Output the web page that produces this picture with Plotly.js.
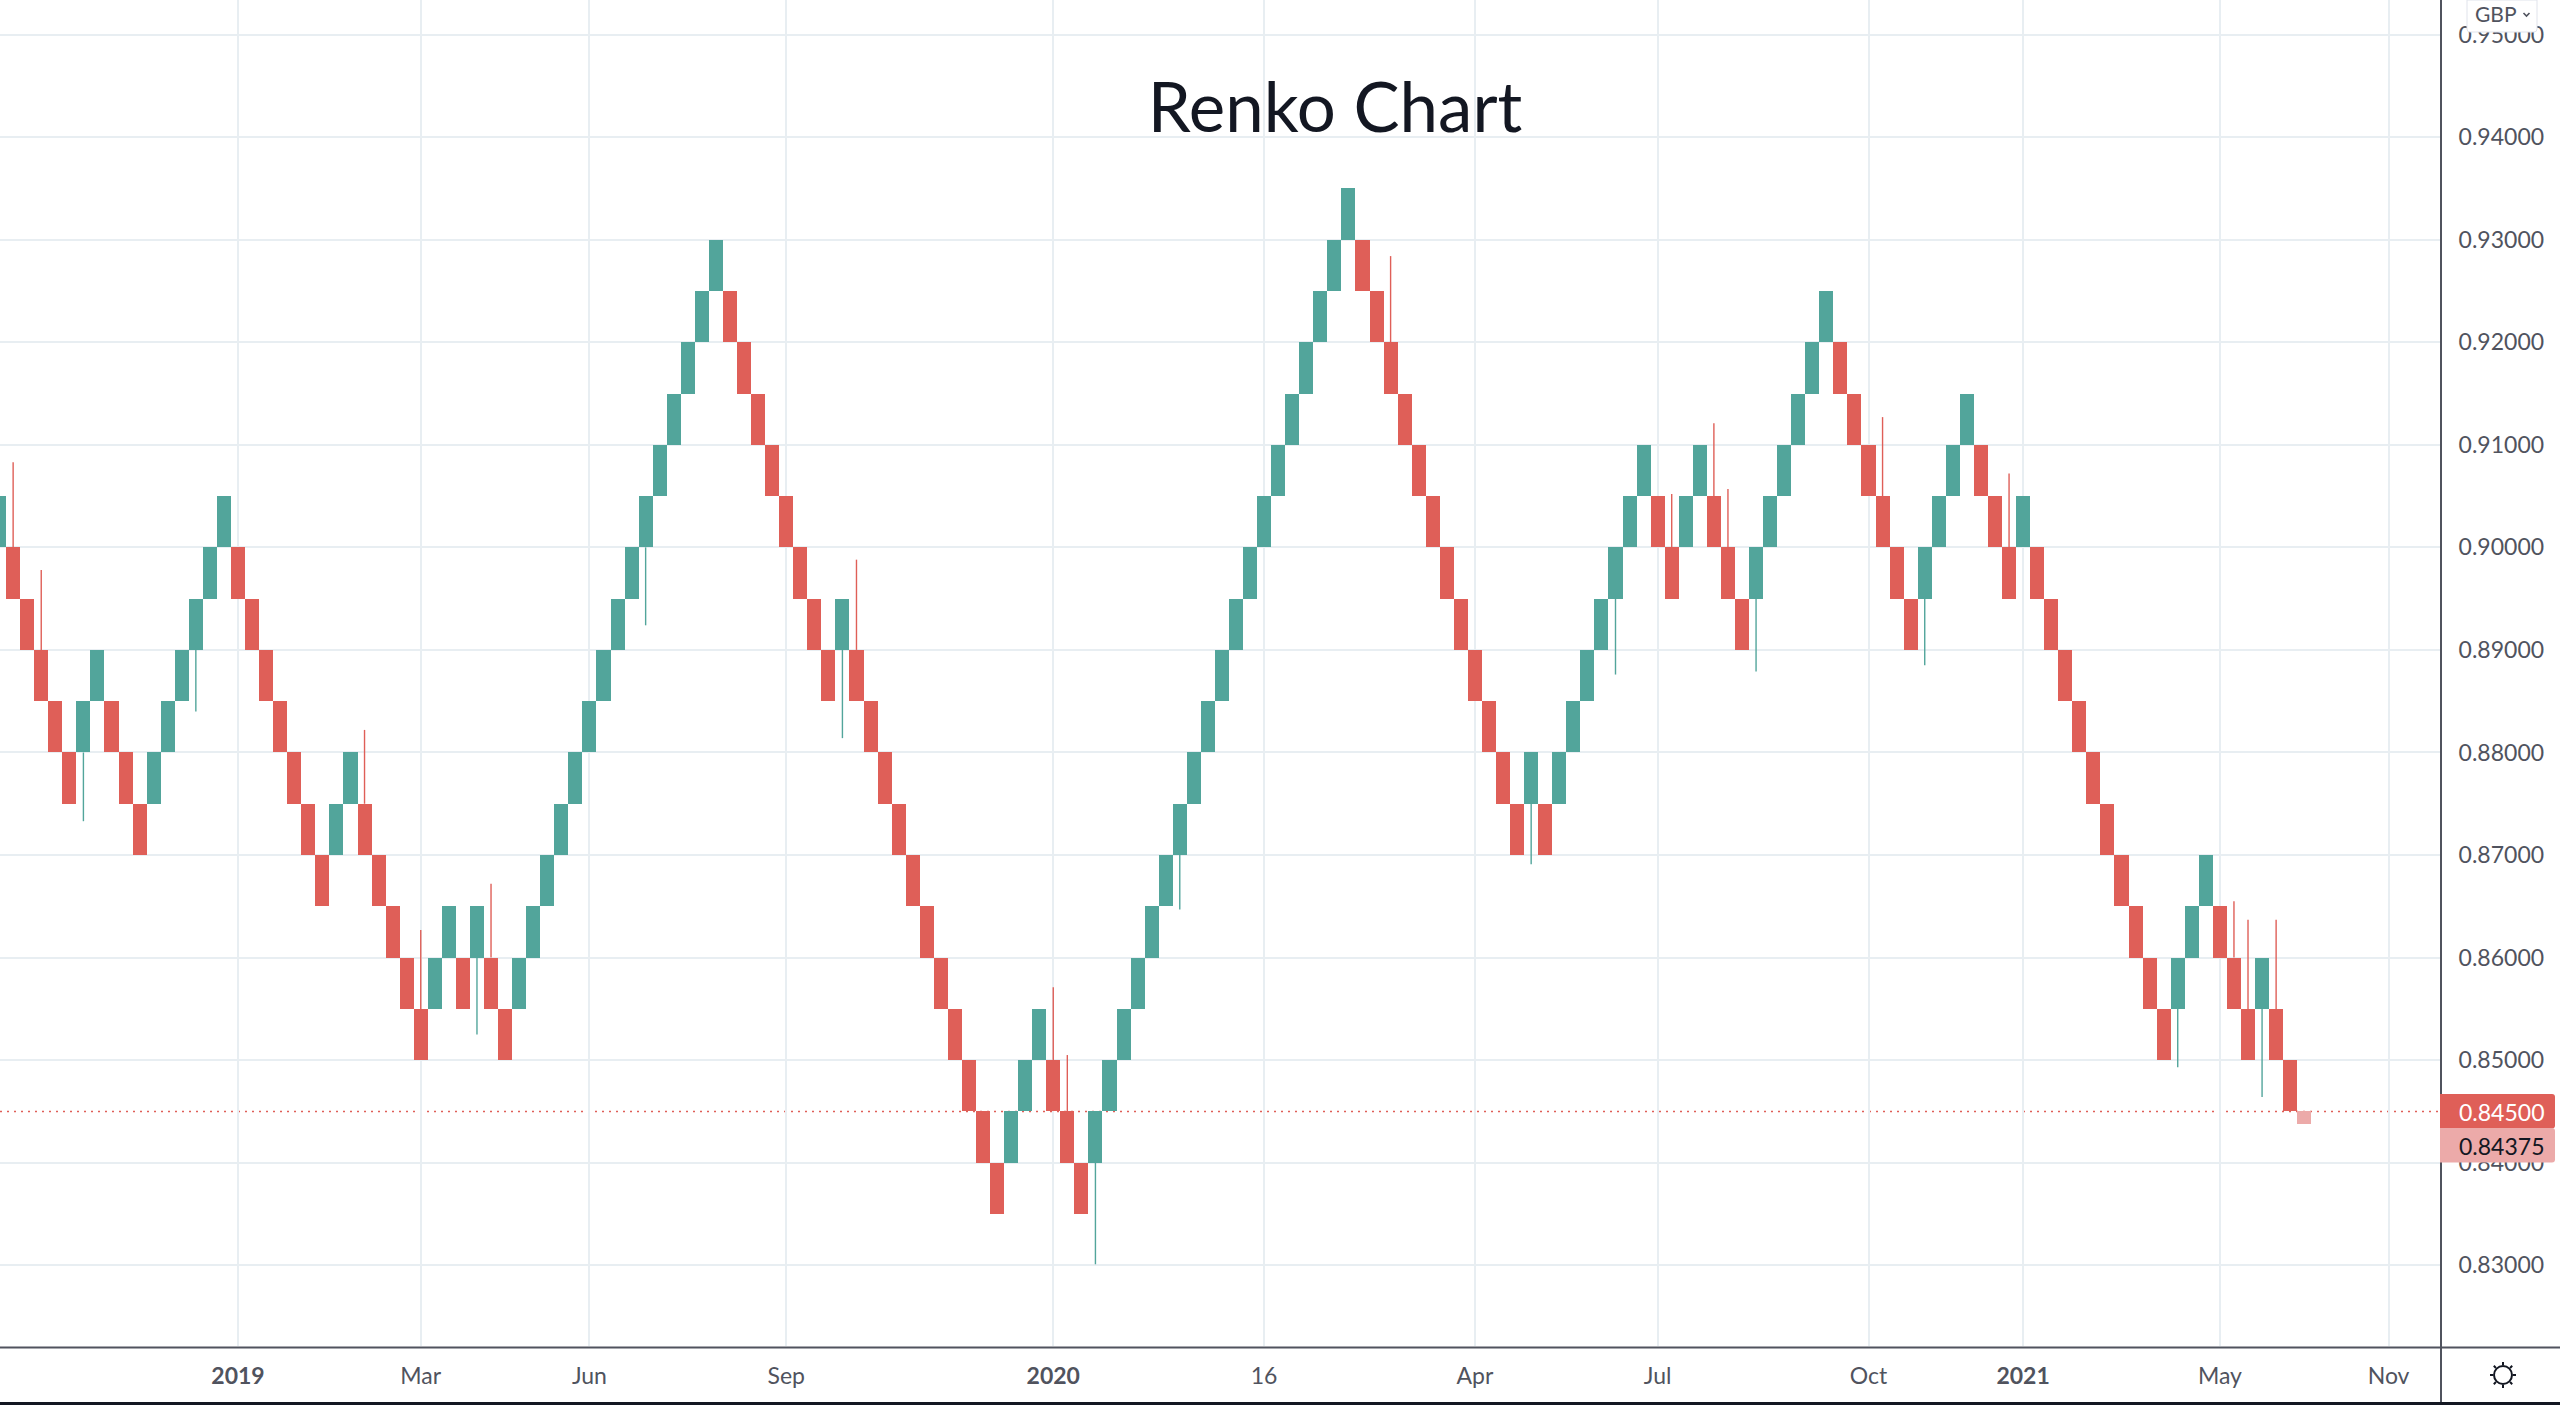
<!DOCTYPE html>
<html>
<head>
<meta charset="utf-8">
<script src="https://cdn.plot.ly/plotly-3.0.1.min.js"></script>
<style>html,body{margin:0;padding:0;background:#fff}#chart{width:2560px;height:1405px}</style>
</head>
<body>
<div id="chart"></div>
<script>
// ---- data ----
const brickSize = 0.005;
const brickLow = [
 .900,.895,.890,.885,.880,.875,.880,.885,.880,.875,.870,.875,.880,.885,.890,.895,.900,
 .895,.890,.885,.880,.875,.870,.865,.870,.875,.870,.865,.860,.855,.850,.855,.860,.855,.860,.855,.850,
 .855,.860,.865,.870,.875,.880,.885,.890,.895,.900,.905,.910,.915,.920,.925,
 .920,.915,.910,.905,.900,.895,.890,.885,.890,.885,.880,.875,.870,.865,.860,.855,.850,.845,.840,.835,
 .840,.845,.850,.845,.840,.835,
 .840,.845,.850,.855,.860,.865,.870,.875,.880,.885,.890,.895,.900,.905,.910,.915,.920,.925,.930,
 .925,.920,.915,.910,.905,.900,.895,.890,.885,.880,.875,.870,.875,.870,
 .875,.880,.885,.890,.895,.900,.905,.900,.895,.900,.905,.900,.895,.890,
 .895,.900,.905,.910,.915,.920,.915,.910,.905,.900,.895,.890,
 .895,.900,.905,.910,.905,.900,.895,.900,.895,.890,.885,.880,.875,.870,.865,.860,.855,.850,
 .855,.860,.865,.860,.855,.850,.855,.850,.845
];
const brickDir = [
 1,-1,-1,-1,-1,-1,1,1,-1,-1,-1,1,1,1,1,1,1,
 -1,-1,-1,-1,-1,-1,-1,1,1,-1,-1,-1,-1,-1,1,1,-1,1,-1,-1,
 1,1,1,1,1,1,1,1,1,1,1,1,1,1,1,
 -1,-1,-1,-1,-1,-1,-1,-1,1,-1,-1,-1,-1,-1,-1,-1,-1,-1,-1,-1,
 1,1,1,-1,-1,-1,
 1,1,1,1,1,1,1,1,1,1,1,1,1,1,1,1,1,1,1,
 -1,-1,-1,-1,-1,-1,-1,-1,-1,-1,-1,-1,1,-1,
 1,1,1,1,1,1,1,-1,-1,1,1,-1,-1,-1,
 1,1,1,1,1,1,-1,-1,-1,-1,-1,-1,
 1,1,1,1,-1,-1,-1,1,-1,-1,-1,-1,-1,-1,-1,-1,-1,-1,
 1,1,1,-1,-1,-1,1,-1,-1
];
const wickCol = [1,3,6,14,26,30,34,35,46,60,61,75,76,78,84,99,109,115,119,122,123,125,134,137,143,155,159,160,161,162];
const wickEnd = [.9083,.8978,.8733,.884,.8822,.8627,.8525,.8672,.8924,.8814,.8988,.8571,.8505,.8301,.8647,.9284,.8691,.8876,.9052,.9121,.9057,.8879,.9127,.8885,.9072,.8493,.8655,.8637,.8464,.8637];
const formingCol = [164];
const formingHigh = [0.845];
const formingClose = [0.84375];
const lastPrice = 0.845;
const priceLabels = ["0.84500", "0.84375"];
const yTickVals = [.83,.84,.85,.86,.87,.88,.89,.90,.91,.92,.93,.94,.95];
const xTickVals = [17,30,42,56,75,90,105,118,133,144,158,170];
const xTickText = ["<b>2019</b>","Mar","Jun","Sep","<b>2020</b>","16","Apr","Jul","Oct","<b>2021</b>","May","Nov"];

// ---- style ----
const GREEN="#52a59b", RED="#df5f58", PALE="#ecaaa9", GRID="#e8eef2", AXIS="#50535e", TEXT="#50535e", DARK="#131722";
const FONT="Lato, 'Noto Sans', sans-serif";
const W=2560,H=1405,PW=2441,PH=1346;
const xRange=[0.066,173.73], yRange=[0.82213,0.95337];
const px=v=>v/PW, py=v=>1-v/PH;

// ---- traces ----
const cols=brickLow.map((_,i)=>i);
const pick=d=>cols.filter(i=>brickDir[i]===d);
const barTrace=(idx,color)=>({type:"bar",x:idx,y:idx.map(()=>brickSize),base:idx.map(i=>brickLow[i]),width:1,
  marker:{color:color,line:{width:0}},hoverinfo:"skip",showlegend:false});
const wickTrace=(d,color)=>{const x=[],y=[];wickCol.forEach((c,i)=>{ if(brickDir[c]!==d)return;
    x.push(c,c,null); y.push(d>0?brickLow[c]:brickLow[c]+brickSize,wickEnd[i],null);});
  return {type:"scatter",mode:"lines",x:x,y:y,line:{color:color,width:1.4},hoverinfo:"skip",showlegend:false,connectgaps:false};};
const traces=[barTrace(pick(1),GREEN),barTrace(pick(-1),RED),
 {type:"bar",x:formingCol,y:[formingHigh[0]-formingClose[0]],base:formingClose,width:1,marker:{color:PALE,line:{width:0}},hoverinfo:"skip",showlegend:false},
 wickTrace(1,GREEN),wickTrace(-1,RED)];

// ---- decorations (pixel helpers) ----
const rr=(x0,y0,x1,y1,r)=>`M${px(x0)},${py(y0)}L${px(x1-r)},${py(y0)}Q${px(x1)},${py(y0)} ${px(x1)},${py(y0+r)}L${px(x1)},${py(y1-r)}Q${px(x1)},${py(y1)} ${px(x1-r)},${py(y1)}L${px(x0)},${py(y1)}Z`;
const shapes=[
 {type:"line",layer:"below",xref:"x",yref:"y",x0:xRange[0],x1:xRange[1],y0:lastPrice,y1:lastPrice,line:{color:RED,width:1.5,dash:"2px 5px"}},
 {type:"rect",xref:"paper",yref:"paper",x0:0,x1:px(W),y0:py(1402),y1:py(H),fillcolor:DARK,line:{width:0},layer:"above"},
 {type:"line",xref:"paper",yref:"paper",x0:0,x1:px(W),y0:py(1347.5),y1:py(1347.5),line:{color:AXIS,width:2},layer:"above"},
 {type:"line",xref:"paper",yref:"paper",x0:px(2441),x1:px(2441),y0:py(0),y1:py(1402),line:{color:AXIS,width:2},layer:"above"},
 {type:"path",xref:"paper",yref:"paper",path:rr(2440,1094,2555,1128.5,3),fillcolor:RED,line:{width:0},layer:"above"},
 {type:"path",xref:"paper",yref:"paper",path:rr(2440,1128,2555,1162.5,3),fillcolor:PALE,line:{width:0},layer:"above"},
 {type:"path",xref:"paper",yref:"paper",path:`M${px(2467)},${py(0)}L${px(2467)},${py(29)}Q${px(2467)},${py(32)} ${px(2470)},${py(32)}L${px(2534)},${py(32)}Q${px(2537)},${py(32)} ${px(2537)},${py(29)}L${px(2537)},${py(0)}Z`,fillcolor:"#ffffff",line:{color:"#e0e3eb",width:1},layer:"above"},
 {type:"path",xref:"paper",yref:"paper",path:`M${px(2523.5)},${py(13)}L${px(2526.5)},${py(16)}L${px(2529.5)},${py(13)}`,line:{color:TEXT,width:1.6},layer:"above"},
 {type:"circle",xref:"paper",yref:"paper",x0:px(2494),x1:px(2512),y0:py(1366),y1:py(1384),line:{color:DARK,width:2},layer:"above"}
];
for(let k=0;k<8;k++){const a=k*Math.PI/4, c=Math.cos(a), s=Math.sin(a);
 shapes.push({type:"line",xref:"paper",yref:"paper",x0:px(2503+10*c),x1:px(2503+13*c),y0:py(1375+10*s),y1:py(1375+13*s),line:{color:DARK,width:2},layer:"above"});}

const annotations=[
 {xref:"paper",yref:"paper",x:px(2457),y:py(1111.5),xanchor:"left",yanchor:"middle",text:priceLabels[0],showarrow:false,font:{family:FONT,size:23,color:"#ffffff"}},
 {xref:"paper",yref:"paper",x:px(2457),y:py(1145.5),xanchor:"left",yanchor:"middle",text:priceLabels[1],showarrow:false,font:{family:FONT,size:23,color:DARK}},
 {xref:"paper",yref:"paper",x:px(2473),y:py(14),xanchor:"left",yanchor:"middle",text:"GBP",showarrow:false,font:{family:FONT,size:21,color:TEXT}}
];

const layout={
 width:W,height:H,paper_bgcolor:"#fff",plot_bgcolor:"#fff",
 margin:{l:0,r:W-PW,t:0,b:H-PH,pad:0},
 barmode:"overlay",bargap:0,showlegend:false,
 title:{text:"Renko Chart",font:{family:FONT,size:69,color:DARK},xref:"container",yref:"container",x:1335/W,xanchor:"center",y:1-108/H,yanchor:"middle"},
 xaxis:{range:xRange,tickmode:"array",tickvals:xTickVals,ticktext:xTickText,showgrid:true,gridcolor:GRID,gridwidth:2,zeroline:false,
   ticks:"outside",ticklen:9,tickcolor:"rgba(0,0,0,0)",showline:false,tickfont:{family:FONT,size:23,color:TEXT},tickangle:0},
 yaxis:{range:yRange,side:"right",tickmode:"array",tickvals:yTickVals,tickformat:".5f",showgrid:true,gridcolor:GRID,gridwidth:2,zeroline:false,
   ticks:"outside",ticklen:12,tickcolor:"rgba(0,0,0,0)",showline:false,tickfont:{family:FONT,size:23,color:TEXT}},
 shapes:shapes,annotations:annotations
};
Plotly.newPlot("chart",traces,layout,{displayModeBar:false,staticPlot:true});
</script>
</body>
</html>
